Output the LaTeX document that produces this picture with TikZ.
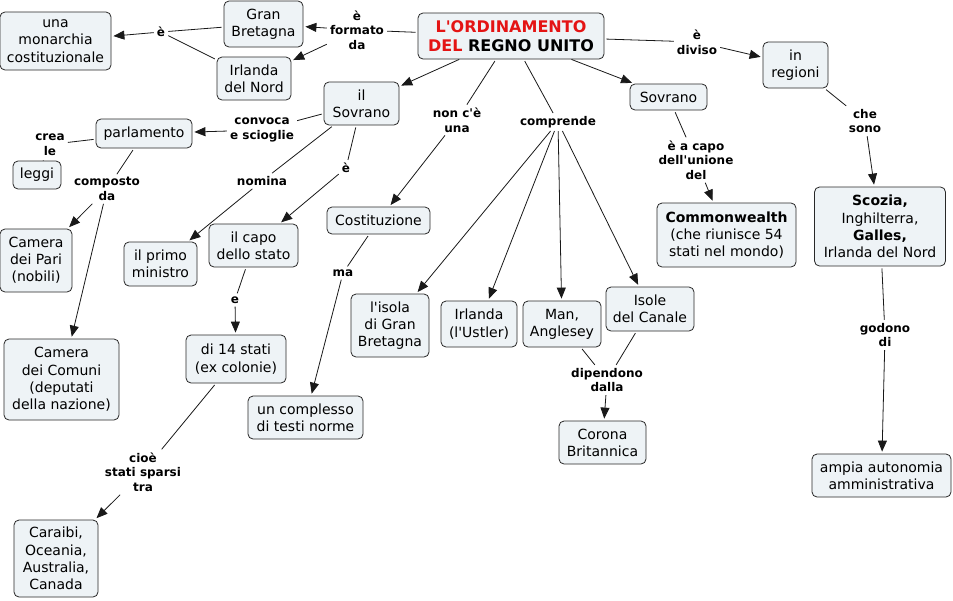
\documentclass[tikz,border=0pt]{standalone}
\usepackage{fontspec}
\setmainfont{DejaVu Sans}[Ligatures=TeXOff]
\usetikzlibrary{arrows.meta}
\definecolor{boxfill}{RGB}{238,243,246}
\definecolor{boxline}{RGB}{40,40,40}
\definecolor{titlered}{RGB}{228,20,20}
\tikzset{
  box/.style={draw=boxline, fill=boxfill, rounded corners=5pt, line width=0.8pt,
    align=center, inner sep=0pt, font=\fontsize{14}{17.2}\selectfont},
  bx/.style 2 args={box, minimum width=#1pt, minimum height=#2pt},
  lbl/.style={align=center, inner sep=3pt, font=\fontsize{12}{14.6}\selectfont\bfseries},
  ln/.style={draw=black!90, line width=0.8pt, shorten <=2pt},
  arr/.style={draw=black!90, line width=0.8pt, shorten >=2pt, -{Triangle[length=11pt,width=9pt]}}
}
\begin{document}
\begin{tikzpicture}[x=1pt,y=-1pt]
\useasboundingbox (0,0) rectangle (953,600);
\fill[white] (0,0) rectangle (953,600);
% concepts
\node[bx={186}{46}, font=\fontsize{16}{19.5}\selectfont\bfseries] (title) at (511,36)
  {\textcolor{titlered}{L'ORDINAMENTO}\\\textcolor{titlered}{DEL} REGNO UNITO};
\node[bx={79}{46}] (gb) at (263.5,24) {Gran\\Bretagna};
\node[bx={74}{43}] (irln) at (254,78.5) {Irlanda\\del Nord};
\node[bx={111}{58}] (mon) at (55.5,41) {una\\monarchia\\costituzionale};
\node[bx={75}{43}] (sov) at (361.5,103.5) {il\\Sovrano};
\node[bx={96}{29}] (parl) at (144,133.5) {parlamento};
\node[bx={48}{28}] (leggi) at (37,175) {leggi};
\node[bx={72}{63}] (pari) at (36,260.5) {Camera\\dei Pari\\(nobili)};
\node[bx={115}{81}] (comuni) at (61.5,379.5) {Camera\\dei Comuni\\(deputati\\della nazione)};
\node[bx={73}{44}] (primo) at (160.5,264) {il primo\\ministro};
\node[bx={89}{43}] (capo) at (253.5,245.5) {il capo\\dello stato};
\node[bx={100}{48}] (quattordici) at (236,359) {di 14 stati\\(ex colonie)};
\node[bx={84}{77}] (caraibi) at (56,558.5) {Caraibi,\\Oceania,\\Australia,\\Canada};
\node[bx={103}{27}] (cost) at (378.5,220.5) {Costituzione};
\node[bx={115}{43}] (compl) at (305.5,417.5) {un complesso\\di testi norme};
\node[bx={78}{63}] (isola) at (390,325.5) {l'isola\\di Gran\\Bretagna};
\node[bx={76}{46}] (irlu) at (479,324) {Irlanda\\(l'Ustler)};
\node[bx={78}{46}] (man) at (562,324) {Man,\\Anglesey};
\node[bx={88}{44}] (isole) at (650,309) {Isole\\del Canale};
\node[bx={87}{43}] (corona) at (602.5,442.5) {Corona\\Britannica};
\node[bx={77}{26}] (sovr2) at (668.5,97) {Sovrano};
\node[bx={139}{64}] (commw) at (726.5,235) {\textbf{Commonwealth}\\(che riunisce 54\\stati nel mondo)};
\node[bx={65}{46}] (regioni) at (795.5,65) {in\\regioni};
\node[bx={131}{79}] (scozia) at (880,226.5) {\textbf{Scozia,}\\Inghilterra,\\\textbf{Galles,}\\Irlanda del Nord};
\node[bx={139}{43}] (ampia) at (881.5,475.5) {ampia autonomia\\amministrativa};
% linking phrases
\node[lbl] (lE1) at (161,32) {è};
\node[lbl] (lForm) at (357,30) {è\\formato\\da};
\node[lbl] (lConv) at (262,130) {convoca\\e scioglie};
\node[lbl] (lCrea) at (50,144.5) {crea\\le};
\node[lbl] (lComp) at (107,189) {composto\\da};
\node[lbl] (lNom) at (262,181) {nomina};
\node[lbl] (lE2) at (346,168) {è};
\node[lbl] (lE3) at (235,300) {e};
\node[lbl] (lCioe) at (143,472) {cioè\\stati sparsi\\tra};
\node[lbl] (lNon) at (457,120) {non c'è\\una};
\node[lbl] (lMa) at (343,273) {ma};
\node[lbl] (lComprende) at (558,122) {comprende};
\node[lbl] (lDip) at (607,380) {dipendono\\dalla};
\node[lbl] (lCapo) at (696,160) {è a capo\\dell'unione\\del};
\node[lbl] (lDiv) at (697,42) {è\\diviso};
\node[lbl] (lChe) at (865,121) {che\\sono};
\node[lbl] (lGod) at (885,335) {godono\\di};
% connectors
\draw[ln] (title) -- (lForm);
\draw[arr] (lForm) -- (gb);
\draw[arr] (lForm) -- (irln);
\draw[ln] (gb) -- (lE1);
\draw[ln] (irln) -- (lE1);
\draw[arr] (lE1) -- (mon);
\draw[arr] (title) -- (sov);
\draw[ln] (title) -- (lNon);
\draw[arr] (lNon) -- (cost);
\draw[ln] (title) -- (lComprende);
\draw[arr] (lComprende) -- (isola);
\draw[arr] (lComprende) -- (irlu);
\draw[arr] (lComprende) -- (man);
\draw[arr] (lComprende) -- (isole);
\draw[arr] (title) -- (sovr2);
\draw[ln] (title) -- (lDiv);
\draw[arr] (lDiv) -- (regioni);
\draw[ln] (sov) -- (lConv);
\draw[arr] (lConv) -- (parl);
\draw[ln] (sov) -- (lNom);
\draw[arr] (lNom) -- (primo);
\draw[ln] (sov) -- (lE2);
\draw[arr] (lE2) -- (capo);
\draw[ln] (parl) -- (lCrea);
\draw[ln] (lCrea) -- (leggi);
\draw[ln] (parl) -- (lComp);
\draw[arr] (lComp) -- (pari);
\draw[arr] (lComp) -- (comuni);
\draw[ln] (capo) -- (lE3);
\draw[arr] (lE3) -- (quattordici);
\draw[ln] (quattordici) -- (lCioe);
\draw[arr] (lCioe) -- (caraibi);
\draw[ln] (cost) -- (lMa);
\draw[arr] (lMa) -- (compl);
\draw[ln] (man) -- (lDip);
\draw[ln] (isole) -- (lDip);
\draw[arr] (lDip) -- (corona);
\draw[ln] (sovr2) -- (lCapo);
\draw[arr] (lCapo) -- (commw);
\draw[ln] (regioni) -- (lChe);
\draw[arr] (lChe) -- (scozia);
\draw[ln] (scozia) -- (lGod);
\draw[arr] (lGod) -- (ampia);
\end{tikzpicture}
\end{document}
